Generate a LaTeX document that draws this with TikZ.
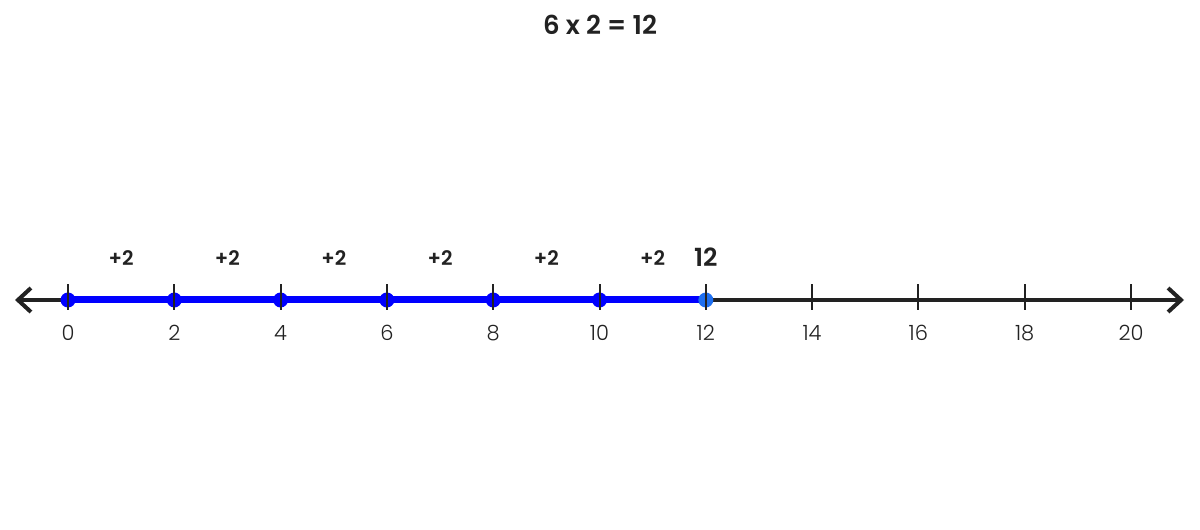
\documentclass[tikz,border=0pt]{standalone}
\usepackage{fontspec}
\setmainfont{Poppins}[BoldFont={* SemiBold}]
\newfontfamily\lightfont{Poppins Light}
\usetikzlibrary{arrows.meta,calc}
\definecolor{ink}{HTML}{222222}
\definecolor{pathblue}{RGB}{0,0,255}
\definecolor{endblue}{HTML}{1E6FF0}
\tikzset{
  axisline/.style={ink, line width=4pt, {Straight Barb[length=13pt,width=24pt,line width=4pt]}-{Straight Barb[length=13pt,width=24pt,line width=4pt]}},
  tickmark/.style={ink, line width=2pt},
  jumpline/.style={pathblue, line width=7pt},
  dotmark/.style={circle, fill=pathblue, inner sep=0pt, minimum size=15pt},
  enddot/.style={circle, fill=endblue, inner sep=0pt, minimum size=15pt},
  ticklabel/.style={ink, font=\fontsize{21}{24}\selectfont\lightfont, anchor=center},
  steplabel/.style={ink, font=\fontsize{20}{24}\selectfont\bfseries, anchor=center},
  bigvalue/.style={ink, font=\fontsize{25}{28}\selectfont\bfseries, anchor=center},
  titlelabel/.style={ink, font=\fontsize{26}{30}\selectfont\bfseries, anchor=center}
}
\begin{document}
\begin{tikzpicture}[x=1pt,y=1pt]
\useasboundingbox[fill=white] (0,0) rectangle (1200,530);
\node[titlelabel] (title) at (600,505) {6 x 2 = 12};
\coordinate (L) at (15,230);
\coordinate (R) at (1184,230);
\draw[axisline] (L) -- (R);
\foreach \k in {0,...,10} {
  \pgfmathsetmacro{\xx}{68+106.3*\k}
  \pgfmathtruncatemacro{\val}{2*\k}
  \coordinate (t\k) at (\xx,230);
  \node[ticklabel] (lab\k) at (\xx,197) {\val};
}
\draw[jumpline] (t0) -- (t6);
\foreach \k in {0,...,5} {
  \node[dotmark] (d\k) at (t\k) {};
}
\node[enddot] (d6) at (t6) {};
\foreach \k in {0,...,10} {
  \draw[tickmark] ([yshift=-10pt]t\k) -- ([yshift=16pt]t\k);
}
\foreach \k [evaluate=\k as \nx using int(\k+1)] in {0,...,5} {
  \node[steplabel] (p\k) at ($(t\k)!0.5!(t\nx)+(0,42)$) {+2};
}
\node[bigvalue] (twelve) at ($(t6)+(0,43)$) {12};
\end{tikzpicture}
\end{document}
